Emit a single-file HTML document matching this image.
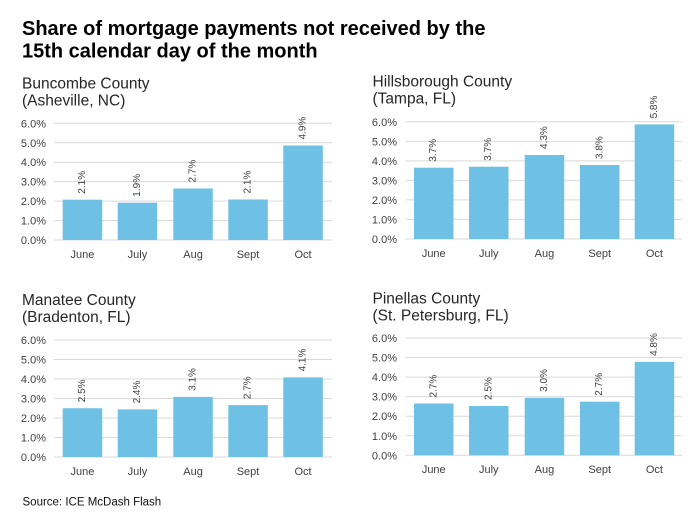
<!DOCTYPE html>
<html>
<head>
<meta charset="utf-8">
<style>
  html, body { margin: 0; padding: 0; background: #ffffff; }
  svg { display: block; }
  text { font-family: "Liberation Sans", Arial, sans-serif; }
  .title { font-size: 20px; font-weight: bold; fill: #000; }
  .sub { font-size: 15.5px; fill: #262626; }
  .yl { font-size: 11px; fill: #404040; text-anchor: end; }
  .xl { font-size: 11px; fill: #404040; text-anchor: middle; }
  .dl { font-size: 10px; fill: #404040; text-anchor: start; dominant-baseline: central; }
  .grid { stroke: #d9d9d9; stroke-width: 1; }
  .bar { fill: #6ec1e4; }
  .src { font-size: 11.5px; fill: #111; }
</style>
</head>
<body>
<svg width="700" height="523" viewBox="0 0 700 523" xmlns="http://www.w3.org/2000/svg">
  <rect width="700" height="523" fill="#fff"/>
  <text class="title" x="22" y="35">Share of mortgage payments not received by the</text>
  <text class="title" x="22" y="57.5">15th calendar day of the month</text>

  <!-- Panel 1 -->
  <text class="sub" x="22" y="88.5">Buncombe County</text>
  <text class="sub" x="22" y="105.5">(Asheville, NC)</text>
  <g>
    <line class="grid" x1="54" x2="332" y1="123.3" y2="123.3"/>
    <line class="grid" x1="54" x2="332" y1="142.75" y2="142.75"/>
    <line class="grid" x1="54" x2="332" y1="162.2" y2="162.2"/>
    <line class="grid" x1="54" x2="332" y1="181.65" y2="181.65"/>
    <line class="grid" x1="54" x2="332" y1="201.1" y2="201.1"/>
    <line class="grid" x1="54" x2="332" y1="220.55" y2="220.55"/>
    <line class="grid" x1="54" x2="332" y1="240" y2="240"/>
    <text class="yl" x="46" y="127.3">6.0%</text>
    <text class="yl" x="46" y="146.75">5.0%</text>
    <text class="yl" x="46" y="166.2">4.0%</text>
    <text class="yl" x="46" y="185.65">3.0%</text>
    <text class="yl" x="46" y="205.1">2.0%</text>
    <text class="yl" x="46" y="224.55">1.0%</text>
    <text class="yl" x="46" y="244">0.0%</text>
    <rect class="bar" x="62.7" y="199.7" width="39.5" height="40.3"/>
    <rect class="bar" x="117.7" y="202.7" width="39.5" height="37.3"/>
    <rect class="bar" x="173.3" y="188.5" width="39.5" height="51.5"/>
    <rect class="bar" x="228.3" y="199.5" width="39.5" height="40.5"/>
    <rect class="bar" x="283.3" y="145.5" width="39.5" height="94.5"/>
    <text class="dl" x="82.45" y="193.7" transform="rotate(-90 82.45 193.7)">2.1%</text>
    <text class="dl" x="137.45" y="196.7" transform="rotate(-90 137.45 196.7)">1.9%</text>
    <text class="dl" x="193.05" y="182.5" transform="rotate(-90 193.05 182.5)">2.7%</text>
    <text class="dl" x="248.05" y="193.5" transform="rotate(-90 248.05 193.5)">2.1%</text>
    <text class="dl" x="303.05" y="139.5" transform="rotate(-90 303.05 139.5)">4.9%</text>
    <text class="xl" x="82.45" y="258">June</text>
    <text class="xl" x="137.45" y="258">July</text>
    <text class="xl" x="193.05" y="258">Aug</text>
    <text class="xl" x="248.05" y="258">Sept</text>
    <text class="xl" x="303.05" y="258">Oct</text>
  </g>

  <!-- Panel 2 -->
  <text class="sub" x="372.5" y="86.5">Hillsborough County</text>
  <text class="sub" x="372.5" y="103.5">(Tampa, FL)</text>
  <g>
    <line class="grid" x1="405.5" x2="682" y1="121.8" y2="121.8"/>
    <line class="grid" x1="405.5" x2="682" y1="141.33" y2="141.33"/>
    <line class="grid" x1="405.5" x2="682" y1="160.87" y2="160.87"/>
    <line class="grid" x1="405.5" x2="682" y1="180.4" y2="180.4"/>
    <line class="grid" x1="405.5" x2="682" y1="199.93" y2="199.93"/>
    <line class="grid" x1="405.5" x2="682" y1="219.47" y2="219.47"/>
    <line class="grid" x1="405.5" x2="682" y1="239" y2="239"/>
    <text class="yl" x="397" y="125.8">6.0%</text>
    <text class="yl" x="397" y="145.33">5.0%</text>
    <text class="yl" x="397" y="164.87">4.0%</text>
    <text class="yl" x="397" y="184.4">3.0%</text>
    <text class="yl" x="397" y="203.93">2.0%</text>
    <text class="yl" x="397" y="223.47">1.0%</text>
    <text class="yl" x="397" y="243">0.0%</text>
    <rect class="bar" x="414" y="167.7" width="39.5" height="71.3"/>
    <rect class="bar" x="469" y="166.7" width="39.5" height="72.3"/>
    <rect class="bar" x="524.7" y="155" width="39.5" height="84"/>
    <rect class="bar" x="580" y="165" width="39.5" height="74"/>
    <rect class="bar" x="634.7" y="124.4" width="39.5" height="114.6"/>
    <text class="dl" x="433.75" y="161.7" transform="rotate(-90 433.75 161.7)">3.7%</text>
    <text class="dl" x="488.75" y="160.7" transform="rotate(-90 488.75 160.7)">3.7%</text>
    <text class="dl" x="544.45" y="149" transform="rotate(-90 544.45 149)">4.3%</text>
    <text class="dl" x="599.75" y="159" transform="rotate(-90 599.75 159)">3.8%</text>
    <text class="dl" x="654.45" y="118.4" transform="rotate(-90 654.45 118.4)">5.8%</text>
    <text class="xl" x="433.75" y="257">June</text>
    <text class="xl" x="488.75" y="257">July</text>
    <text class="xl" x="544.45" y="257">Aug</text>
    <text class="xl" x="599.75" y="257">Sept</text>
    <text class="xl" x="654.45" y="257">Oct</text>
  </g>

  <!-- Panel 3 -->
  <text class="sub" x="22" y="305">Manatee County</text>
  <text class="sub" x="22" y="322">(Bradenton, FL)</text>
  <g>
    <line class="grid" x1="54" x2="332" y1="340" y2="340"/>
    <line class="grid" x1="54" x2="332" y1="359.5" y2="359.5"/>
    <line class="grid" x1="54" x2="332" y1="379" y2="379"/>
    <line class="grid" x1="54" x2="332" y1="398.5" y2="398.5"/>
    <line class="grid" x1="54" x2="332" y1="418" y2="418"/>
    <line class="grid" x1="54" x2="332" y1="437.5" y2="437.5"/>
    <line class="grid" x1="54" x2="332" y1="457" y2="457"/>
    <text class="yl" x="46" y="344">6.0%</text>
    <text class="yl" x="46" y="363.5">5.0%</text>
    <text class="yl" x="46" y="383">4.0%</text>
    <text class="yl" x="46" y="402.5">3.0%</text>
    <text class="yl" x="46" y="422">2.0%</text>
    <text class="yl" x="46" y="441.5">1.0%</text>
    <text class="yl" x="46" y="461">0.0%</text>
    <rect class="bar" x="62.7" y="408.25" width="39.5" height="48.75"/>
    <rect class="bar" x="117.7" y="409.4" width="39.5" height="47.6"/>
    <rect class="bar" x="173.3" y="396.9" width="39.5" height="60.1"/>
    <rect class="bar" x="228.3" y="405.1" width="39.5" height="51.9"/>
    <rect class="bar" x="283.3" y="377.4" width="39.5" height="79.6"/>
    <text class="dl" x="82.45" y="402.25" transform="rotate(-90 82.45 402.25)">2.5%</text>
    <text class="dl" x="137.45" y="403.4" transform="rotate(-90 137.45 403.4)">2.4%</text>
    <text class="dl" x="193.05" y="390.9" transform="rotate(-90 193.05 390.9)">3.1%</text>
    <text class="dl" x="248.05" y="399.1" transform="rotate(-90 248.05 399.1)">2.7%</text>
    <text class="dl" x="303.05" y="371.4" transform="rotate(-90 303.05 371.4)">4.1%</text>
    <text class="xl" x="82.45" y="475">June</text>
    <text class="xl" x="137.45" y="475">July</text>
    <text class="xl" x="193.05" y="475">Aug</text>
    <text class="xl" x="248.05" y="475">Sept</text>
    <text class="xl" x="303.05" y="475">Oct</text>
  </g>

  <!-- Panel 4 -->
  <text class="sub" x="372.5" y="303.5">Pinellas County</text>
  <text class="sub" x="372.5" y="320.5">(St. Petersburg, FL)</text>
  <g>
    <line class="grid" x1="405.5" x2="682" y1="338" y2="338"/>
    <line class="grid" x1="405.5" x2="682" y1="357.55" y2="357.55"/>
    <line class="grid" x1="405.5" x2="682" y1="377.1" y2="377.1"/>
    <line class="grid" x1="405.5" x2="682" y1="396.65" y2="396.65"/>
    <line class="grid" x1="405.5" x2="682" y1="416.2" y2="416.2"/>
    <line class="grid" x1="405.5" x2="682" y1="435.75" y2="435.75"/>
    <line class="grid" x1="405.5" x2="682" y1="455.3" y2="455.3"/>
    <text class="yl" x="397" y="342">6.0%</text>
    <text class="yl" x="397" y="361.55">5.0%</text>
    <text class="yl" x="397" y="381.1">4.0%</text>
    <text class="yl" x="397" y="400.65">3.0%</text>
    <text class="yl" x="397" y="420.2">2.0%</text>
    <text class="yl" x="397" y="439.75">1.0%</text>
    <text class="yl" x="397" y="459.3">0.0%</text>
    <rect class="bar" x="414" y="403.5" width="39.5" height="51.8"/>
    <rect class="bar" x="469" y="406" width="39.5" height="49.3"/>
    <rect class="bar" x="524.7" y="397.8" width="39.5" height="57.5"/>
    <rect class="bar" x="580" y="401.7" width="39.5" height="53.6"/>
    <rect class="bar" x="634.7" y="361.9" width="39.5" height="93.4"/>
    <text class="dl" x="433.75" y="397.5" transform="rotate(-90 433.75 397.5)">2.7%</text>
    <text class="dl" x="488.75" y="400" transform="rotate(-90 488.75 400)">2.5%</text>
    <text class="dl" x="544.45" y="391.8" transform="rotate(-90 544.45 391.8)">3.0%</text>
    <text class="dl" x="599.75" y="395.7" transform="rotate(-90 599.75 395.7)">2.7%</text>
    <text class="dl" x="654.45" y="355.9" transform="rotate(-90 654.45 355.9)">4.8%</text>
    <text class="xl" x="433.75" y="473">June</text>
    <text class="xl" x="488.75" y="473">July</text>
    <text class="xl" x="544.45" y="473">Aug</text>
    <text class="xl" x="599.75" y="473">Sept</text>
    <text class="xl" x="654.45" y="473">Oct</text>
  </g>

  <text class="src" x="22.5" y="505.5">Source: ICE McDash Flash</text>
</svg>
</body>
</html>
